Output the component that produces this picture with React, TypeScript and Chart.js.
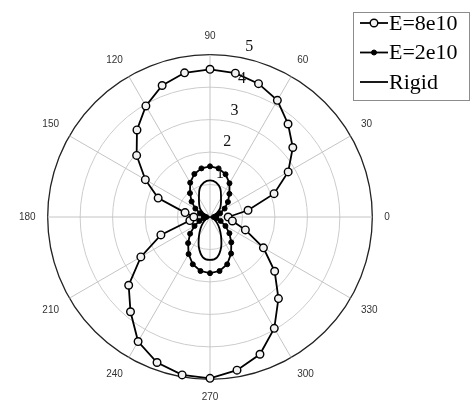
import React, { useEffect, useRef } from 'react';
import { Chart, registerables } from 'chart.js';

Chart.register(...registerables);

// polar angle of each sample (degrees, counter-clockwise from 0 at the right)
const ANGLES: number[] = [
  0, 10, 20, 30, 40, 50, 60, 70, 80, 90, 100, 110, 120, 130, 140, 150, 160, 170,
  180, 190, 200, 210, 220, 230, 240, 250, 260, 270, 280, 290, 300, 310, 320, 330, 340, 350,
];

const E8E10: number[] = [
  0.56, 1.19, 2.1, 2.78, 3.33, 3.74, 4.15, 4.37, 4.5, 4.55, 4.51, 4.31, 3.95, 3.5, 2.95, 2.3, 1.7, 0.78,
  0.5, 0.63, 1.61, 2.46, 3.27, 3.81, 4.43, 4.77, 4.94, 4.97, 4.79, 4.5, 3.96, 3.28, 2.6, 1.9, 1.16, 0.7,
];

const E2E10: number[] = [
  0.12, 0.2, 0.33, 0.52, 0.72, 0.93, 1.2, 1.4, 1.52, 1.56, 1.52, 1.41, 1.22, 0.96, 0.74, 0.52, 0.33, 0.2,
  0.12, 0.2, 0.35, 0.55, 0.8, 1.05, 1.32, 1.55, 1.69, 1.73, 1.69, 1.55, 1.3, 1.02, 0.78, 0.55, 0.35, 0.2,
];

const RIGID: number[] = [
  0.02, 0.06, 0.14, 0.25, 0.4, 0.52, 0.68, 0.93, 1.08, 1.13, 1.08, 0.93, 0.68, 0.52, 0.4, 0.25, 0.14, 0.06,
  0.02, 0.03, 0.07, 0.15, 0.28, 0.45, 0.68, 1.0, 1.26, 1.32, 1.26, 1.0, 0.68, 0.45, 0.28, 0.15, 0.07, 0.03,
];

const RADIAL_TICKS: number[] = [1, 2, 3, 4, 5];
const ANGLE_LABEL_STEP = 30;

// radar runs clockwise from the top, so reorder the samples to start at 90 and go counter-clockwise
const order = ANGLES.map((_, i) => (9 - i + 36) % 36);
const pick = (arr: number[]) => order.map((k) => arr[k]);

const legendBox = {
  id: 'legendBox',
  afterDraw(chart: any) {
    const { ctx } = chart;
    ctx.save();
    ctx.strokeStyle = '#8c8c8c';
    ctx.lineWidth = 1;
    ctx.strokeRect(353.5, 12.5, 116, 88);
    ctx.font = '22px "Liberation Serif"';
    ctx.textBaseline = 'middle';
    ctx.fillStyle = '#000';
    chart.data.datasets.forEach((ds: any, i: number) => {
      const y = 23 + i * 29.5;
      ctx.strokeStyle = '#000';
      ctx.lineWidth = 1.8;
      ctx.beginPath();
      ctx.moveTo(360, y);
      ctx.lineTo(388, y);
      ctx.stroke();
      if (ds.pointRadius > 0) {
        ctx.beginPath();
        ctx.arc(374, y, ds.pointRadius, 0, Math.PI * 2);
        ctx.fillStyle = ds.pointBackgroundColor;
        ctx.fill();
        ctx.lineWidth = ds.pointBorderWidth;
        ctx.stroke();
      }
      ctx.fillStyle = '#000';
      ctx.fillText(ds.label, 389, y + 1);
    });
    ctx.restore();
  },
};

const radialTickText = {
  id: 'radialTickText',
  afterDraw(chart: any) {
    const r = chart.scales.r;
    const { ctx } = chart;
    const a = (77 * Math.PI) / 180;
    ctx.save();
    ctx.font = '16px "Liberation Serif"';
    ctx.textAlign = 'center';
    ctx.textBaseline = 'middle';
    ctx.fillStyle = '#111';
    RADIAL_TICKS.forEach((v) => {
      const d = r.getDistanceFromCenterForValue(v) + 12;
      ctx.fillText(String(v), r.xCenter + d * Math.cos(a), r.yCenter - d * Math.sin(a));
    });
    ctx.restore();
  },
};

function PolarPlot() {
  const canvasRef = useRef<HTMLCanvasElement | null>(null);

  useEffect(() => {
    if (!canvasRef.current) return;
    const ctx = canvasRef.current.getContext('2d');
    if (!ctx) return;

    const chart = new Chart(ctx, {
      type: 'radar',
      data: {
        labels: pick(ANGLES),
        datasets: [
          {
            label: 'E=8e10',
            data: pick(E8E10),
            borderColor: '#000',
            borderWidth: 1.8,
            fill: false,
            pointRadius: 3.8,
            pointBorderWidth: 1.4,
            pointBorderColor: '#000',
            pointBackgroundColor: '#f2f2f2',
          },
          {
            label: 'E=2e10',
            data: pick(E2E10),
            borderColor: '#000',
            borderWidth: 1.8,
            fill: false,
            pointRadius: 2.5,
            pointBorderWidth: 1,
            pointBorderColor: '#000',
            pointBackgroundColor: '#000',
          },
          {
            label: 'Rigid',
            data: pick(RIGID),
            borderColor: '#000',
            borderWidth: 1.8,
            fill: false,
            pointRadius: 0,
            tension: 0.3,
          },
        ],
      },
      options: {
        responsive: false,
        animation: false,
        events: [],
        layout: { padding: { left: 13, top: 25, right: 78, bottom: 3 } },
        plugins: { legend: { display: false }, tooltip: { enabled: false } },
        scales: {
          r: {
            min: 0,
            max: 5,
            startAngle: 0,
            ticks: { stepSize: 1, display: false },
            grid: {
              circular: true,
              color: (c: any) => (c.tick && c.tick.value === 5 ? '#222' : '#cccccc'),
              lineWidth: (c: any) => (c.tick && c.tick.value === 5 ? 1.3 : 1),
            },
            angleLines: {
              color: (c: any) => (c.index % 3 === 0 ? '#c4c4c4' : 'transparent'),
              lineWidth: 1,
            },
            pointLabels: {
              padding: 12,
              color: '#333',
              font: { family: '"Liberation Sans"', size: 10 },
              callback: (label: any) => (Number(label) % ANGLE_LABEL_STEP === 0 ? String(label) : ''),
            },
          },
        },
      },
      plugins: [legendBox, radialTickText],
    });

    return () => chart.destroy();
  }, []);

  return <canvas ref={canvasRef} width={474} height={412} style={{ display: 'block' }} />;
}

export default function App() {
  useEffect(() => {
    document.body.style.margin = '0';
  }, []);
  return (
    <div style={{ width: 474, height: 412, background: '#fff' }}>
      <PolarPlot />
    </div>
  );
}
